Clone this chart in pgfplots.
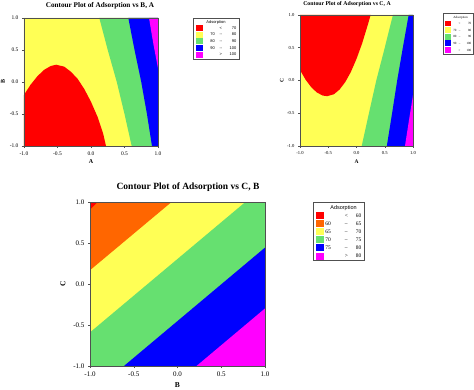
\documentclass[border=0pt]{standalone}
\usepackage{pgfplots}
\pgfplotsset{compat=1.18}
\usepackage{fontspec}
\setmainfont{Liberation Serif}
\newfontfamily\lsans{Liberation Sans}
\definecolor{cRed}{RGB}{255,0,0}
\definecolor{cOrange}{RGB}{255,102,0}
\definecolor{cYellow}{RGB}{255,255,85}
\definecolor{cGreen}{RGB}{102,224,112}
\definecolor{cBlue}{RGB}{0,0,255}
\definecolor{cMag}{RGB}{255,0,255}
\definecolor{frame}{RGB}{80,80,80}
\newlength\lA \newlength\lB \newlength\lC
\newcommand{\lr}[3]{\makebox[\lA][l]{#1}\makebox[\lB][c]{#2}\makebox[\lC][r]{#3}}
\pgfplotsset{
  every axis title/.style={},
  contourax/.style={
    scale only axis,
    xmin=-1, xmax=1, ymin=-1, ymax=1,
    axis on top,
    xtick pos=bottom, ytick pos=left,
    axis line style={frame, line width=0.6pt},
    tick style={frame, line width=0.5pt},
    tick align=outside,
    major tick length=2pt,
    xtick={-1,-0.5,0,0.5,1}, ytick={-1,-0.5,0,0.5,1},
    /pgf/number format/.cd, fixed, fixed zerofill, precision=1, assume math mode=true,
    /pgfplots/.cd,
    legend cell align=left,
    legend style={draw=frame, line width=0.6pt, fill=white},
  },
  reg/.style={fill=#1, draw=none, forget plot},
}
\begin{document}
\begin{tikzpicture}
\useasboundingbox (0,0) rectangle (474pt,-390pt);
% ---------------- Plot 1: B vs A
\setlength\lA{7pt}\setlength\lB{7pt}\setlength\lC{12pt}
\begin{axis}[contourax,
  at={(24pt,-146pt)}, anchor=south west, width=134pt, height=128pt,
  tick label style={font=\fontsize{5.5}{6}\selectfont},
  title={Contour Plot of Adsorption vs B, A},
  title style={at={(0.567,1.094)}, anchor=center, font=\bfseries\fontsize{7.2}{8}\selectfont},
  xlabel={A}, ylabel={B},
  xlabel style={at={(0.5,-0.125)}, anchor=center, font=\bfseries\fontsize{6}{7}\selectfont},
  ylabel style={at={(-0.157,0.5)}, anchor=center, font=\bfseries\fontsize{6}{7}\selectfont},
  legend style={at={(1.261,1)}, anchor=north west, font=\lsans\fontsize{4}{4.5}\selectfont,
    inner xsep=2.5pt, inner ysep=1.5pt, row sep=1.1pt, column sep=8pt,
    nodes={inner sep=0pt, text height=3.4pt, text depth=0.8pt}},
  legend image code/.code={\fill[#1] (0pt,-2.5pt) rectangle (6pt,2.5pt);},
]
\addplot[reg=cYellow] coordinates {(-1,-1) (1,-1) (1,1) (-1,1)} \closedcycle;
\addplot[reg=cRed] coordinates {(-1,-1) (-1,-0.20) (-0.9,-0.04) (-0.8,0.09) (-0.7,0.19) (-0.6,0.25) (-0.52,0.27) (-0.4,0.24) (-0.3,0.16) (-0.2,0.05) (-0.1,-0.11) (0,-0.31) (0.1,-0.55) (0.18,-0.80) (0.224,-1)} -- cycle;
\addplot[reg=cGreen] coordinates {(0.124,1) (0.25,0.5) (0.385,0) (0.50,-0.5) (0.607,-1) (1,-1) (1,1)} -- cycle;
\addplot[reg=cBlue] coordinates {(0.557,1) (0.65,0.5) (0.75,0) (0.835,-0.5) (0.91,-1) (1,-1) (1,1)} -- cycle;
\addplot[reg=cMag] coordinates {(0.866,1) (0.93,0.6) (1,0.214) (1,1)} -- cycle;
\addlegendimage{empty legend}\addlegendentry{\hspace{-4pt}Adsorption}
\addlegendimage{cRed}\addlegendentry{\lr{}{<}{70}}
\addlegendimage{cYellow}\addlegendentry{\lr{70}{--}{80}}
\addlegendimage{cGreen}\addlegendentry{\lr{80}{--}{90}}
\addlegendimage{cBlue}\addlegendentry{\lr{90}{--}{100}}
\addlegendimage{cMag}\addlegendentry{\lr{}{>}{100}}
\end{axis}
% ---------------- Plot 2: C vs A
\setlength\lA{4.5pt}\setlength\lB{3.5pt}\setlength\lC{10pt}
\begin{axis}[contourax,
  at={(300pt,-146pt)}, anchor=south west, width=113pt, height=131pt,
  tick label style={font=\fontsize{4.6}{5}\selectfont},
  title={Contour Plot of Adsorption vs C, A},
  title style={at={(0.416,1.084)}, anchor=center, font=\bfseries\fontsize{5.8}{6}\selectfont},
  xlabel={A}, ylabel={C},
  xlabel style={at={(0.5,-0.122)}, anchor=center, font=\bfseries\fontsize{5.5}{6}\selectfont},
  ylabel style={at={(-0.16,0.5)}, anchor=center, font=\bfseries\fontsize{5.5}{6}\selectfont},
  legend style={at={(1.265,1.015)}, anchor=north west, font=\fontsize{3.2}{3.6}\selectfont,
    inner xsep=1.5pt, inner ysep=1.5pt, row sep=1.2pt, column sep=3pt,
    nodes={inner sep=0pt, text height=3.6pt, text depth=1pt}},
  legend image code/.code={\fill[#1] (0pt,-2.4pt) rectangle (5pt,2.4pt);},
]
\addplot[reg=cYellow] coordinates {(-1,-1) (1,-1) (1,1) (-1,1)} \closedcycle;
\addplot[reg=cRed] coordinates {(-1,1) (-1,0.16) (-0.9,0.011) (-0.8,-0.104) (-0.7,-0.184) (-0.6,-0.229) (-0.52,-0.24) (-0.4,-0.21) (-0.3,-0.138) (-0.2,-0.025) (-0.1,0.13) (0,0.33) (0.1,0.567) (0.2,0.85) (0.25,1)} -- cycle;
\addplot[reg=cGreen] coordinates {(0.092,-1) (0.22,-0.5) (0.35,0) (0.50,0.5) (0.644,1) (1,1) (1,-1)} -- cycle;
\addplot[reg=cBlue] coordinates {(0.537,-1) (0.63,-0.5) (0.72,0) (0.82,0.5) (0.923,1) (1,1) (1,-1)} -- cycle;
\addplot[reg=cMag] coordinates {(0.858,-1) (0.93,-0.6) (1,-0.224) (1,-1)} -- cycle;
\addlegendimage{empty legend}\addlegendentry{Adsorption}
\addlegendimage{cRed}\addlegendentry{\lr{}{<}{70}}
\addlegendimage{cYellow}\addlegendentry{\lr{70}{--}{80}}
\addlegendimage{cGreen}\addlegendentry{\lr{80}{--}{90}}
\addlegendimage{cBlue}\addlegendentry{\lr{90}{--}{100}}
\addlegendimage{cMag}\addlegendentry{\lr{}{>}{100}}
\end{axis}
% ---------------- Plot 3: C vs B
\setlength\lA{16pt}\setlength\lB{10pt}\setlength\lC{10pt}
\begin{axis}[contourax,
  at={(90pt,-366pt)}, anchor=south west, width=175pt, height=164pt,
  tick label style={font=\fontsize{7}{8}\selectfont},
  title={Contour Plot of Adsorption vs C, B},
  title style={at={(0.56,1.091)}, anchor=center, font=\bfseries\fontsize{9.5}{10}\selectfont},
  xlabel={B}, ylabel={C},
  xlabel style={at={(0.5,-0.116)}, anchor=center, font=\bfseries\fontsize{7.5}{8}\selectfont},
  ylabel style={at={(-0.154,0.5)}, anchor=center, font=\bfseries\fontsize{7.5}{8}\selectfont},
  legend style={at={(1.274,1)}, anchor=north west, font=\fontsize{5.5}{6}\selectfont,
    inner xsep=2.5pt, inner ysep=1.5pt, row sep=1.3pt, column sep=2pt,
    nodes={inner sep=0pt, text height=5.2pt, text depth=1.6pt}},
  legend image code/.code={\fill[#1] (0pt,-3pt) rectangle (7pt,3pt);},
]
\addplot[reg=cYellow] coordinates {(-1,-1) (1,-1) (1,1) (-1,1)} \closedcycle;
\addplot[reg=cOrange] coordinates {(-1,1) (-0.068,1) (-1,0.168)} -- cycle;
\addplot[reg=cRed] coordinates {(-1,1) (-0.913,1) (-1,0.907)} -- cycle;
\addplot[reg=cGreen] coordinates {(0.776,1) (1,1) (1,-1) (-1,-1) (-1,-0.59)} -- cycle;
\addplot[reg=cBlue] coordinates {(1,0.444) (1,-1) (-0.612,-1)} -- cycle;
\addplot[reg=cMag] coordinates {(1,-0.298) (1,-1) (0.217,-1)} -- cycle;
\addlegendimage{empty legend}\addlegendentry{\hspace{5pt}{\lsans Adsorption}}
\addlegendimage{cRed}\addlegendentry{\lr{}{<}{60}}
\addlegendimage{cOrange}\addlegendentry{\lr{60}{--}{65}}
\addlegendimage{cYellow}\addlegendentry{\lr{65}{--}{70}}
\addlegendimage{cGreen}\addlegendentry{\lr{70}{--}{75}}
\addlegendimage{cBlue}\addlegendentry{\lr{75}{--}{80}}
\addlegendimage{cMag}\addlegendentry{\lr{}{>}{80}}
\end{axis}
\end{tikzpicture}
\end{document}
